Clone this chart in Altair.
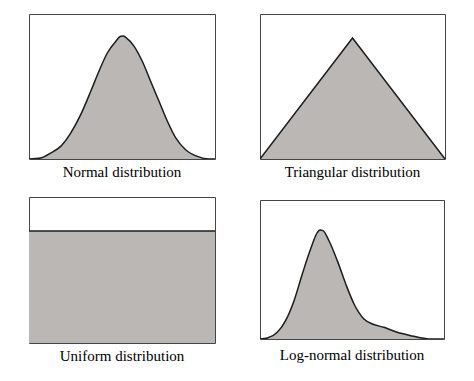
import altair as alt
import pandas as pd

labels = ["Normal distribution", "Triangular distribution",
          "Uniform distribution", "Log-normal distribution"]

normal_x = [0, 6.3, 11.6, 17.0, 22.4, 27.8, 33.2, 37.6, 42.1, 46.6, 49.3, 50.8, 52.0,
            56.5, 60.9, 65.4, 69.9, 74.4, 78.9, 84.2, 90.5, 96.8, 100]
normal_y = [0, 0.7, 4.1, 8.7, 17.9, 30.6, 46.7, 60.5, 73.1, 81.1, 84.6, 84.8, 83.9,
            77.7, 67.4, 53.6, 39.8, 26.0, 14.5, 6.4, 1.8, 0, 0]

tri_x = [0, 50, 100]
tri_y = [0, 83.4, 0]

uni_x = [0, 100]
uni_y = [76.7, 76.7]

logn_x = [0, 4.0, 9.4, 13.9, 18.5, 23.0, 27.5, 31.2, 32.6, 34.2, 37.5, 42.0, 46.6,
          51.1, 56.5, 61.1, 67.4, 74.6, 81.9, 89.1, 92.8, 100]
logn_y = [0, 0.7, 4.8, 13.2, 27.6, 46.8, 64.7, 76.7, 78.4, 78.0, 70.7, 56.4, 39.6,
          25.2, 14.4, 10.8, 8.4, 4.8, 2.4, 0.5, 0, 0]

FILL = "#bab7b5"
LINE = "#1c1c1c"


def panel(xs, ys, title, w, h, offset, interp):
    df = pd.DataFrame({"x": xs, "y": ys})
    base = alt.Chart(df)
    xenc = alt.X("x:Q", scale=alt.Scale(domain=[0, 100], nice=False, zero=False), axis=None)
    yenc = alt.Y("y:Q", scale=alt.Scale(domain=[0, 100], nice=False), axis=None)
    area = base.mark_area(color=FILL, interpolate=interp, clip=True).encode(x=xenc, y=yenc)
    line = base.mark_line(color=LINE, strokeWidth=1.5, interpolate=interp, clip=True).encode(x=xenc, y=yenc)
    return alt.layer(area, line).properties(
        width=w, height=h,
        title=alt.TitleParams(title, orient="bottom", anchor="middle", offset=offset,
                              font="Liberation Serif", fontSize=15, fontWeight="normal",
                              color="#000"))


p1 = panel(normal_x, normal_y, labels[0], 186, 145, 6, "monotone")
p2 = panel(tri_x, tri_y, labels[1], 185, 145, 6, "linear")
p3 = panel(uni_x, uni_y, labels[2], 186, 146, 6, "linear")
p4 = panel(logn_x, logn_y, labels[3], 184, 139, 9, "monotone")

left = alt.vconcat(p1, p3, spacing=15)
right = alt.vconcat(p2, p4, spacing=18)

chart = alt.hconcat(left, right, spacing=43).properties(
    padding={"left": 20, "top": 5, "right": 0, "bottom": 0}
).configure_view(stroke="#444", strokeWidth=1)

chart.save("out.html", embed_options={"renderer": "svg", "actions": False})
